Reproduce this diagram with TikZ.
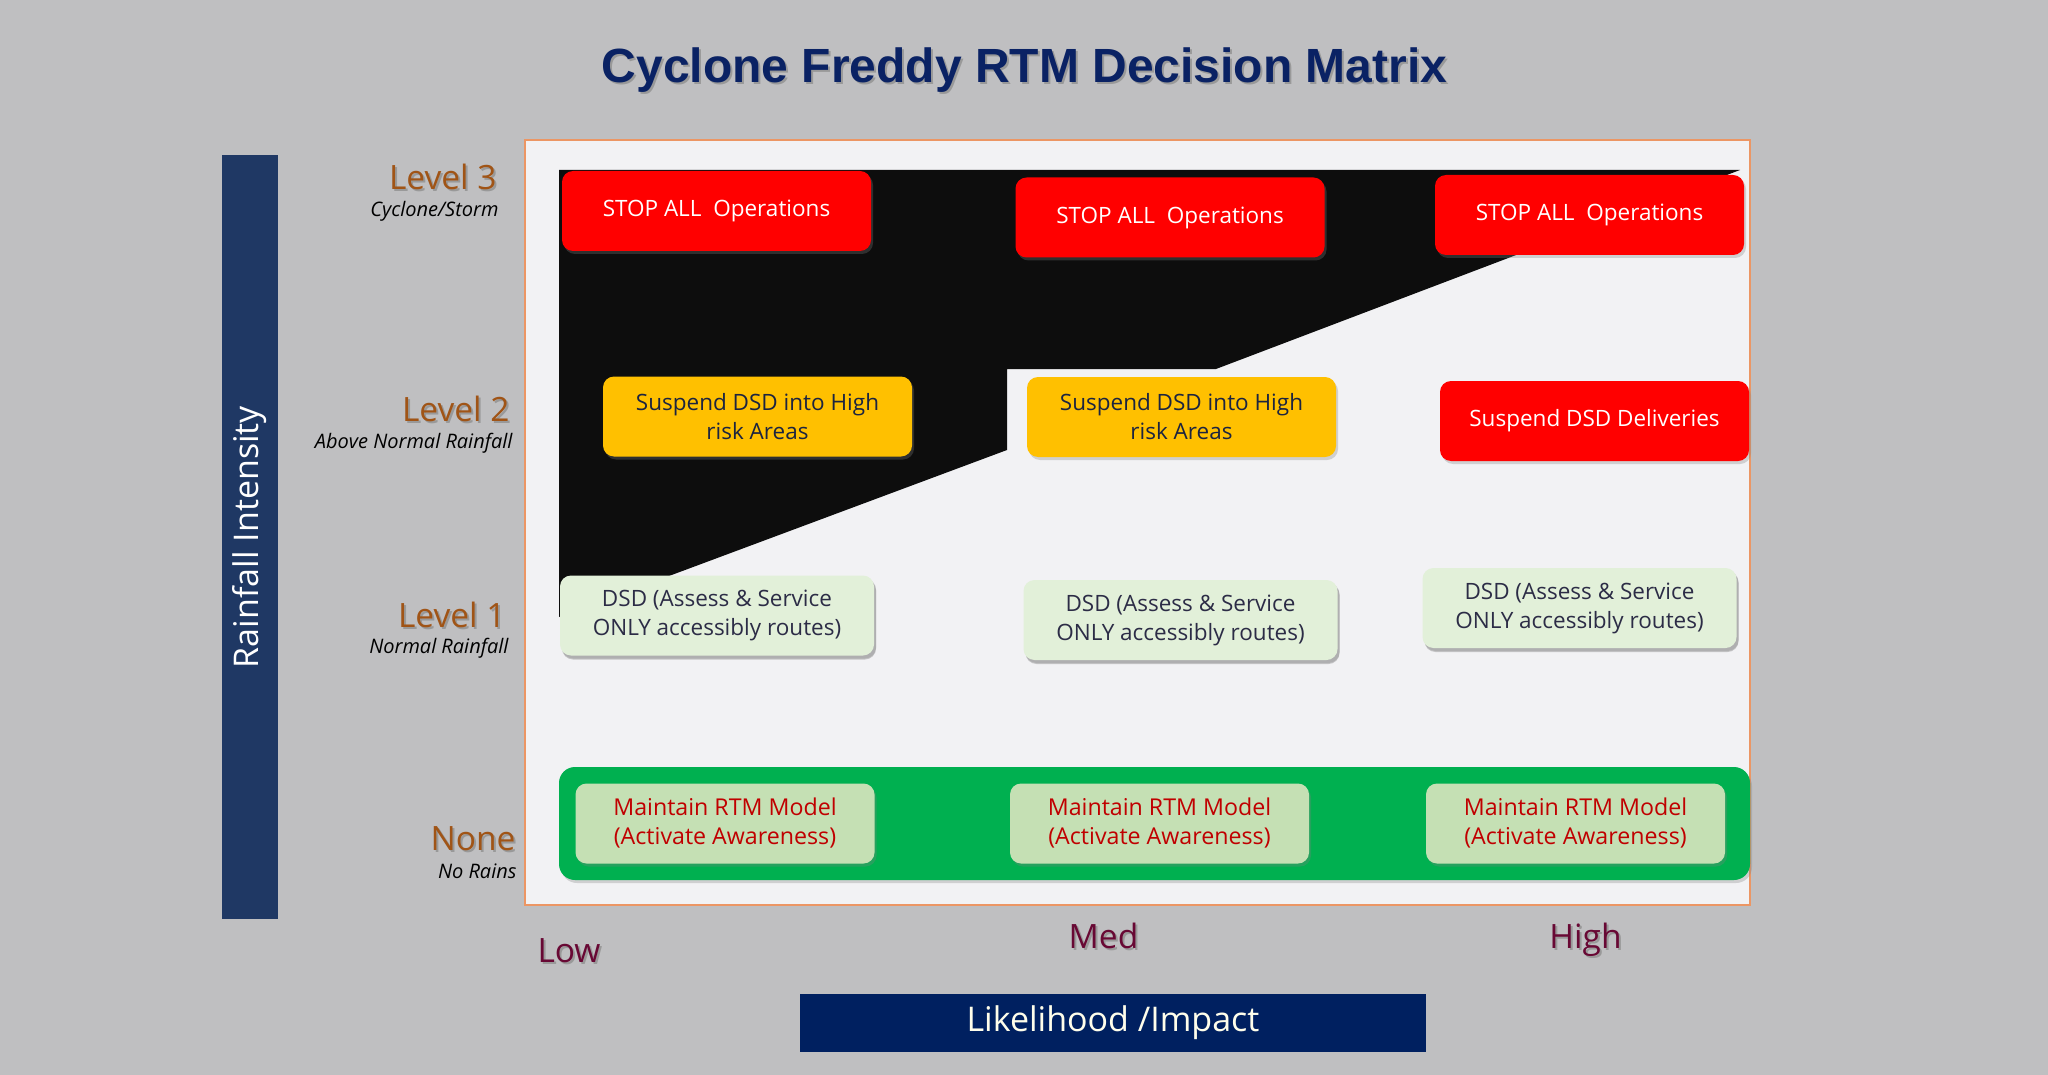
\documentclass[tikz,border=0pt]{standalone}
\usepackage{fontspec}
\setmainfont{Open Sans}
\newfontfamily\titlefont{Liberation Sans}
\usetikzlibrary{positioning, shadows}

\definecolor{bggray}{RGB}{191,191,193}
\definecolor{panel}{RGB}{242,242,244}
\definecolor{panelline}{RGB}{236,150,100}
\definecolor{barnavy}{RGB}{31,56,100}
\definecolor{barblue}{RGB}{0,32,96}
\definecolor{titleblue}{RGB}{10,34,100}
\definecolor{levelbrown}{RGB}{160,84,22}
\definecolor{axismaroon}{RGB}{104,8,52}
\definecolor{stopred}{RGB}{255,0,0}
\definecolor{warnyellow}{RGB}{255,192,0}
\definecolor{palegreen}{RGB}{226,240,217}
\definecolor{bandgreen}{RGB}{0,176,80}
\definecolor{mintgreen}{RGB}{197,224,180}
\definecolor{keepred}{RGB}{192,0,0}
\definecolor{inkblue}{RGB}{28,36,64}
\definecolor{slateink}{RGB}{44,44,70}

\newcommand{\shadowed}[1]{\rlap{\kern2pt\raisebox{-2pt}{\textcolor{black!40}{#1}}}#1}

\tikzset{
	cell/.style={rounded corners=11pt, minimum width=309pt, minimum height=80pt, align=center,
		font=\fontsize{22.5}{29}\selectfont,
		drop shadow={shadow xshift=2pt, shadow yshift=-3pt, opacity=.3}},
	stopcell/.style={cell, fill=stopred, text=white},
	warncell/.style={cell, fill=warnyellow, text=inkblue},
	dsdcell/.style={cell, fill=palegreen, text=slateink, minimum width=314pt,
		drop shadow={shadow xshift=2pt, shadow yshift=-4pt, opacity=.4}},
	keepcell/.style={cell, fill=mintgreen, text=keepred, minimum width=299pt, font=\fontsize{23.2}{29}\selectfont},
	level/.style={anchor=base east, text=levelbrown, font=\fontsize{33.5}{33.5}\selectfont},
	sublevel/.style={anchor=base east, text=black, font=\itshape\fontsize{20}{20}\selectfont},
	axislabel/.style={anchor=base, text=axismaroon, font=\fontsize{33.5}{33.5}\selectfont},
}

\begin{document}
\begin{tikzpicture}[x=1pt, y=-1pt]
		
		\fill[bggray] (0,0) rectangle (2048,1075);
		\useasboundingbox (0,0) rectangle (2048,1075);
		
		\node[anchor=base, text=titleblue, font=\titlefont\bfseries\fontsize{48}{48}\selectfont] (title) at (1024.5,83) {\shadowed{Cyclone Freddy RTM Decision Matrix}};
		
		\draw[panelline, line width=1.5pt, fill=panel] (525,140) rectangle (1750,905);
		\fill[black!95] (559,170) -- (1740,170) -- (1216,369) -- (1007,369) -- (1007,450) -- (559,617) -- cycle;
		\fill[bandgreen, rounded corners=16pt, drop shadow={shadow xshift=2pt, shadow yshift=-3pt, opacity=.3}] (559,767) rectangle (1750,880);
		
		\node[fill=barnavy, rotate=90, minimum width=764pt, minimum height=56pt, text=white, font=\fontsize{34}{34}\selectfont] (yaxis) at (250,537) {Rainfall Intensity};
		\node[fill=barblue, minimum width=626pt, minimum height=58pt, text=white!92!yellow, font=\fontsize{34}{34}\selectfont] (xaxis) at (1113,1023) {Likelihood /Impact};
		
		\node[level] (l3) at (500,190) {\shadowed{Level 3}};
		\node[sublevel] (s3) at (502,217) {Cyclone/Storm};
		\node[level] (l2) at (513,421) {\shadowed{Level 2}};
		\node[sublevel] (s2) at (516,448) {Above Normal Rainfall};
		\node[level] (l1) at (509,627) {\shadowed{Level 1}};
		\node[sublevel] (s1) at (512,653) {Normal Rainfall};
		\node[level] (l0) at (519,850) {\shadowed{None}};
		\node[sublevel] (s0) at (520,878) {No Rains};
		
		\node[axislabel] (low) at (569,962) {\shadowed{Low}};
		\node[axislabel] (med) at (1103.5,948) {\shadowed{Med}};
		\node[axislabel] (high) at (1585.5,948) {\shadowed{High}};
		
		\node[stopcell] (stop1) at (716.5,211) {STOP ALL\ \ Operations};
		\node[stopcell] (stop2) at (1170,217.5) {STOP ALL\ \ Operations};
		\node[stopcell] (stop3) at (1589.5,215) {STOP ALL\ \ Operations};
		
		\node[warncell] (warn1) at (757.5,416.5) {Suspend DSD into High\\risk Areas};
		\node[warncell] (warn2) at (1181.5,417) {Suspend DSD into High\\risk Areas};
		\node[stopcell] (warn3) at (1594.5,421) {Suspend DSD Deliveries};
		
		\node[dsdcell] (dsd1) at (717,615.5) {DSD (Assess \& Service\\ONLY accessibly routes)};
		\node[dsdcell] (dsd2) at (1180.5,620) {DSD (Assess \& Service\\ONLY accessibly routes)};
		\node[dsdcell] (dsd3) at (1579.5,608) {DSD (Assess \& Service\\ONLY accessibly routes)};
		
		\node[keepcell] (keep1) at (725,823.5) {Maintain RTM Model\\(Activate Awareness)};
		\node[keepcell] (keep2) at (1159.5,823.5) {Maintain RTM Model\\(Activate Awareness)};
		\node[keepcell] (keep3) at (1575.5,823.5) {Maintain RTM Model\\(Activate Awareness)};
		
		\end{tikzpicture}
\end{document}
